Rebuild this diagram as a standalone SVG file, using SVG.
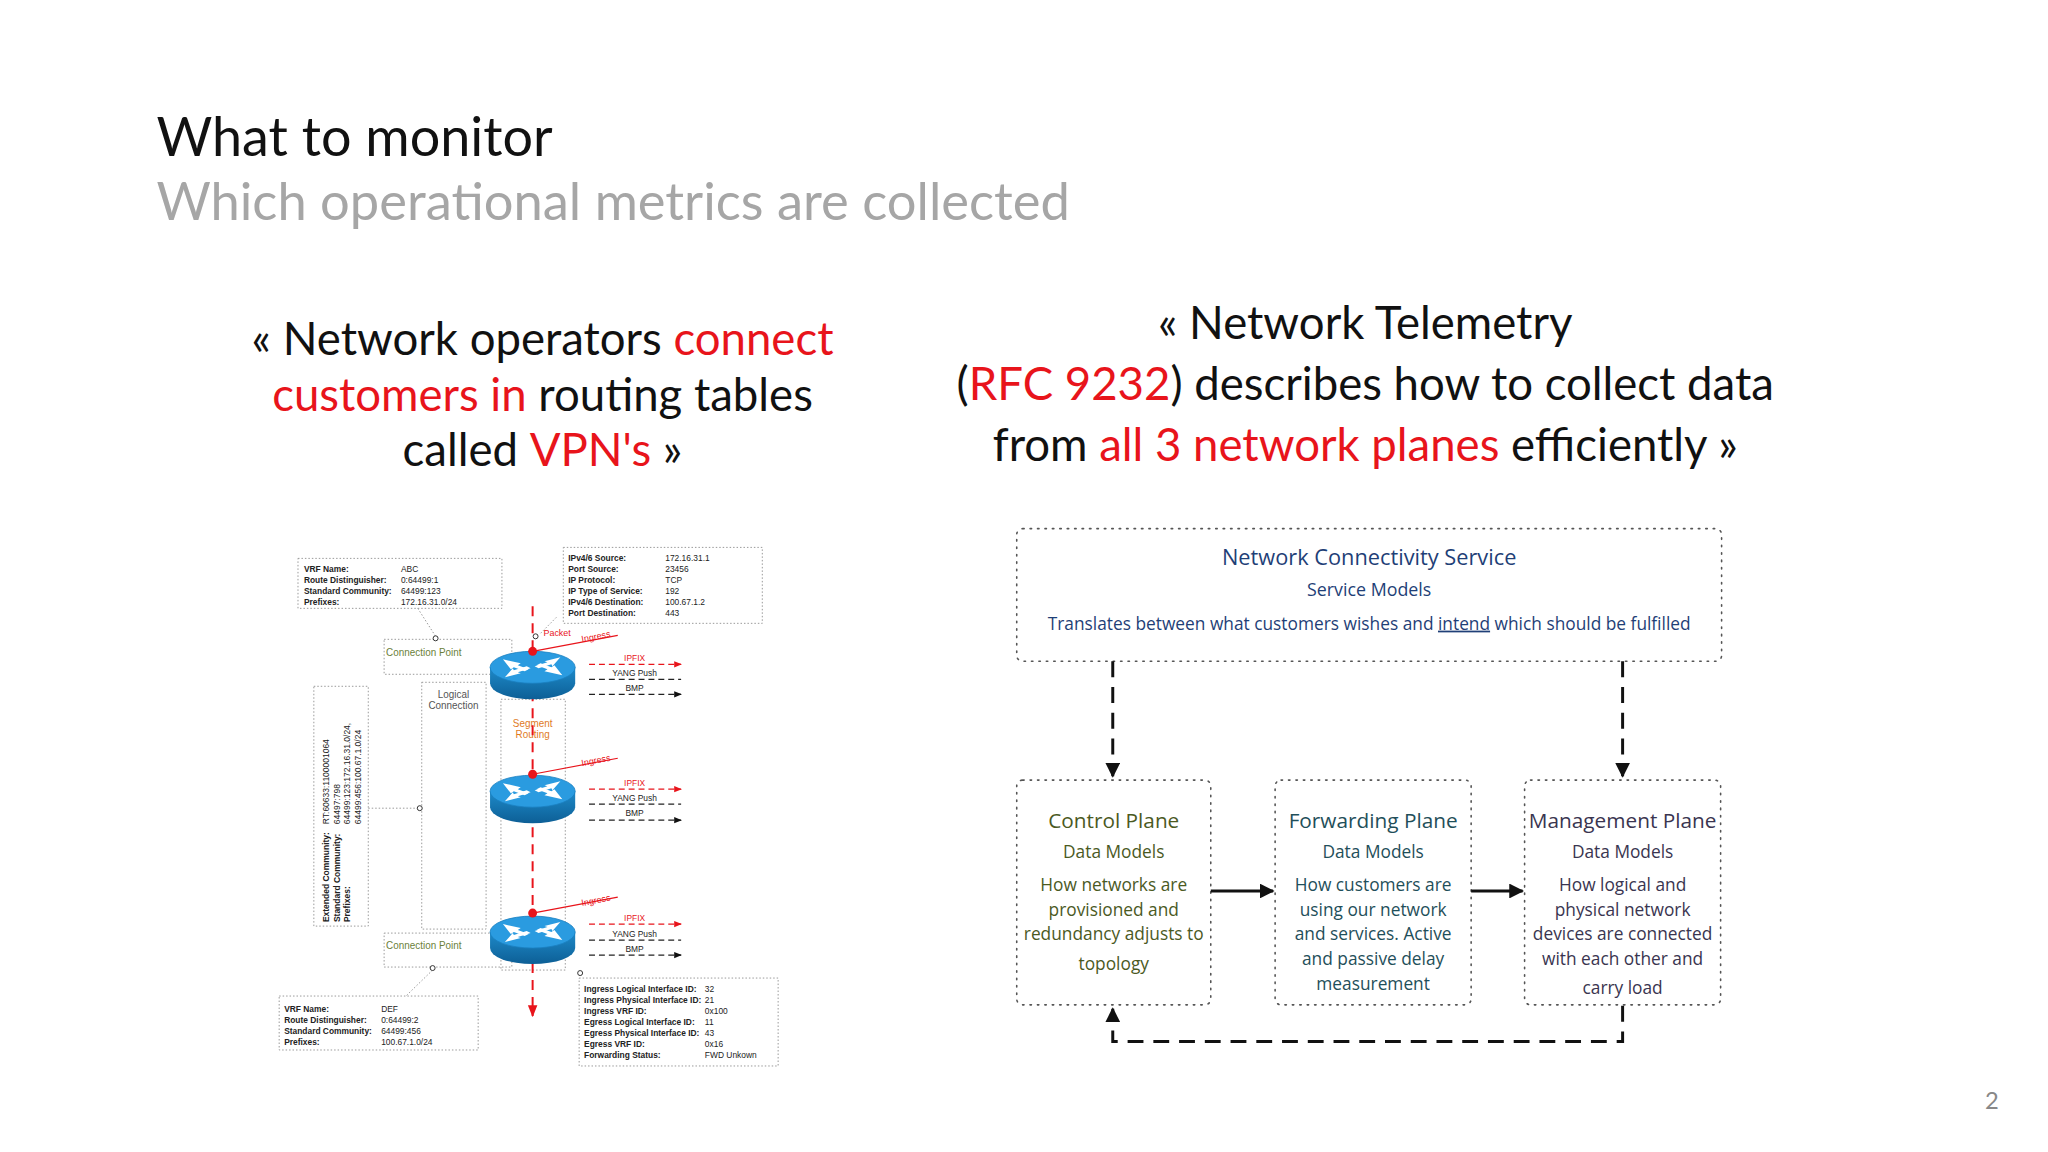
<svg xmlns="http://www.w3.org/2000/svg" width="2048" height="1152" viewBox="0 0 2048 1152">
<defs>
<style>
.t{font-family:Lato,"Liberation Sans",sans-serif}
.d{font-family:"Open Sans","Liberation Sans",sans-serif}
.s{font-family:"Liberation Sans",sans-serif;font-size:8.5px;fill:#222}
.sb{font-family:"Liberation Sans",sans-serif;font-size:8.5px;font-weight:bold;fill:#222}
.red{fill:#e8141b}
.dot{fill:none;stroke:#555;stroke-width:1.6;stroke-dasharray:1.5 6;stroke-linecap:round}
.sdot{stroke:#999;stroke-width:1;stroke-dasharray:1.5 2;fill:none}
.dash{stroke:#111;stroke-width:3;stroke-dasharray:16 10;fill:none}
.sol{stroke:#111;stroke-width:3;fill:none}
.od{stroke:#222;stroke-width:1.3;stroke-dasharray:6 4}
.odr{stroke:#e8141b;stroke-width:1.3;stroke-dasharray:6 4}
</style>
<marker id="ah" viewBox="0 0 10 10" refX="9" refY="5" markerWidth="5" markerHeight="5" orient="auto"><path d="M0,0L10,5L0,10z" fill="#111"/></marker>
<marker id="sa" viewBox="0 0 10 10" refX="9" refY="5" markerWidth="6" markerHeight="6" orient="auto"><path d="M0,1L10,5L0,9z" fill="#111"/></marker>
<marker id="sr" viewBox="0 0 10 10" refX="9" refY="5" markerWidth="6" markerHeight="6" orient="auto"><path d="M0,1L10,5L0,9z" fill="#e8141b"/></marker>
<linearGradient id="rb" x1="0" x2="0" y1="0" y2="1"><stop offset="0" stop-color="#1e8ac9"/><stop offset="1" stop-color="#0d5f96"/></linearGradient>
<symbol id="router" viewBox="-44 -26 88 52" width="88" height="52" overflow="visible">
<path d="M-43,-8 V8 A43,16 0 0 0 43,8 V-8 Z" fill="url(#rb)"/>
<ellipse cx="0" cy="-8" rx="43" ry="16" fill="#2a9be0" stroke="#1a7fc0" stroke-width="0.8"/>
<g fill="#fff">
<path d="M-30,-16 L-12,-12 L-15,-10 L-4,-6 L-8,-4 L-19,-8 L-22,-6 Z"/>
<path d="M30,0 L12,-4 L15,-6 L4,-10 L8,-12 L19,-8 L22,-10 Z"/>
<path d="M28,-18 L12,-14 L15,-13 L2,-9 L6,-7 L19,-11 L20,-9 Z"/>
<path d="M-28,2 L-12,-2 L-15,-3 L-2,-7 L-6,-9 L-19,-5 L-20,-7 Z"/>
</g>
</symbol>
</defs>
<rect width="2048" height="1152" fill="#fff"/>
<g transform="scale(0.99)">
<g id="title">
<text class="t" x="158" y="158" font-size="54.5" fill="#111">What to monitor</text>
<text class="t" x="158" y="222" font-size="53" fill="#a6a6a6">Which operational metrics are collected</text>
</g>

<g id="quote-left" class="t" font-size="46" text-anchor="middle" fill="#111">
<text x="548" y="359">« Network operators <tspan class="red">connect</tspan></text>
<text x="548" y="415"><tspan class="red">customers in</tspan> routing tables</text>
<text x="548" y="471">called <tspan class="red">VPN's</tspan> »</text>
</g>
<g id="quote-right" class="t" font-size="46" text-anchor="middle" fill="#111">
<text x="1379" y="342">« Network Telemetry</text>
<text x="1379" y="404">(<tspan class="red">RFC 9232</tspan>) describes how to collect data</text>
<text x="1379" y="466">from <tspan class="red">all 3 network planes</tspan> efficiently »</text>
</g>

<g id="vpn-diagram" transform="matrix(1,0,0,1.0093,0,-3.2)">
<g id="vrf-abc">
<rect x="301" y="562" width="206" height="50" fill="#fff" class="sdot"/>
<text class="sb" x="307" y="576">VRF Name:</text><text class="s" x="405" y="576">ABC</text>
<text class="sb" x="307" y="587">Route Distinguisher:</text><text class="s" x="405" y="587">0:64499:1</text>
<text class="sb" x="307" y="598">Standard Community:</text><text class="s" x="405" y="598">64499:123</text>
<text class="sb" x="307" y="609">Prefixes:</text><text class="s" x="405" y="609">172.16.31.0/24</text>
</g>
<g id="packet-box">
<rect x="569" y="551" width="201" height="76" fill="#fff" class="sdot"/>
<text class="sb" x="574" y="565">IPv4/6 Source:</text><text class="s" x="672" y="565">172.16.31.1</text>
<text class="sb" x="574" y="576">Port Source:</text><text class="s" x="672" y="576">23456</text>
<text class="sb" x="574" y="587">IP Protocol:</text><text class="s" x="672" y="587">TCP</text>
<text class="sb" x="574" y="598">IP Type of Service:</text><text class="s" x="672" y="598">192</text>
<text class="sb" x="574" y="609">IPv4/6 Destination:</text><text class="s" x="672" y="609">100.67.1.2</text>
<text class="sb" x="574" y="620">Port Destination:</text><text class="s" x="672" y="620">443</text>
</g>
<g id="communities">
<rect x="317" y="690" width="55" height="240" fill="#fff" class="sdot"/>
<g class="s" transform="translate(332,926) rotate(-90)">
<text class="sb" x="0" y="0">Extended Community:</text><text class="s" x="98" y="0">RT:60633:1100001064</text>
<text class="sb" x="0" y="11">Standard Community:</text><text class="s" x="98" y="11">64497:798</text>
<text class="sb" x="0" y="22">Prefixes:</text><text class="s" x="98" y="22">64499:123:172.16.31.0/24,</text>
<text class="s" x="98" y="33">64499:456:100.67.1.0/24</text>
</g>
</g>
<g id="cp-top"><rect x="388" y="643" width="129" height="35" fill="#f4f6ec" class="sdot"/><text class="s" x="390" y="660" style="font-size:10px;fill:#6b7f3a">Connection Point</text></g>
<g id="logical"><rect x="426" y="686" width="65" height="247" fill="#f2f2f6" class="sdot"/><text class="s" text-anchor="middle" style="font-size:10px;fill:#555" x="458" y="702">Logical</text><text class="s" text-anchor="middle" style="font-size:10px;fill:#555" x="458" y="713">Connection</text></g>
<g id="sr"><rect x="506" y="703" width="65" height="271" fill="#fbefe6" class="sdot"/><text class="s" text-anchor="middle" style="font-size:10px;fill:#e07a1e" x="538" y="731">Segment</text><text class="s" text-anchor="middle" style="font-size:10px;fill:#e07a1e" x="538" y="742">Routing</text></g>
<g id="cp-bottom"><rect x="388" y="937" width="129" height="34" fill="#f4f6ec" class="sdot"/><text class="s" x="390" y="953" style="font-size:10px;fill:#6b7f3a">Connection Point</text></g>
<g id="vrf-def">
<rect x="282" y="1000" width="201" height="54" fill="#fff" class="sdot"/>
<text class="sb" x="287" y="1016">VRF Name:</text><text class="s" x="385" y="1016">DEF</text>
<text class="sb" x="287" y="1027">Route Distinguisher:</text><text class="s" x="385" y="1027">0:64499:2</text>
<text class="sb" x="287" y="1038">Standard Community:</text><text class="s" x="385" y="1038">64499:456</text>
<text class="sb" x="287" y="1049">Prefixes:</text><text class="s" x="385" y="1049">100.67.1.0/24</text>
</g>
<g id="iface-box">
<rect x="585" y="982" width="201" height="88" fill="#fff" class="sdot"/>
<text class="sb" x="590" y="996">Ingress Logical Interface ID:</text><text class="s" x="712" y="996">32</text>
<text class="sb" x="590" y="1007">Ingress Physical Interface ID:</text><text class="s" x="712" y="1007">21</text>
<text class="sb" x="590" y="1018">Ingress VRF ID:</text><text class="s" x="712" y="1018">0x100</text>
<text class="sb" x="590" y="1029">Egress Logical Interface ID:</text><text class="s" x="712" y="1029">11</text>
<text class="sb" x="590" y="1040">Egress Physical Interface ID:</text><text class="s" x="712" y="1040">43</text>
<text class="sb" x="590" y="1051">Egress VRF ID:</text><text class="s" x="712" y="1051">0x16</text>
<text class="sb" x="590" y="1062">Forwarding Status:</text><text class="s" x="712" y="1062">FWD Unkown</text>
</g>
<g id="vpn-lines" fill="none">
<path d="M422,612 L440,640 M372,812 L424,812 M437,974 L410,1000 M562,621 L545,638" stroke="#999" stroke-dasharray="1.5 2"/>
<g fill="#fff" stroke="#333" stroke-width="1"><circle cx="440" cy="642" r="2.5"/><circle cx="424" cy="812" r="2.5"/><circle cx="437" cy="972" r="2.5"/><circle cx="541" cy="640" r="2.5"/><circle cx="586" cy="977" r="2.5"/></g>
<path d="M538,610 V1020" stroke="#e8141b" stroke-width="2" stroke-dasharray="10 7" marker-end="url(#sr)"/>
<path d="M538,655 L624,639 M538,778 L624,762 M538,917 L624,901" stroke="#e8141b" stroke-width="1.2"/>
<path d="M595,668 H688" class="odr" marker-end="url(#sr)"/><path d="M595,683 H688 M595,698 H688" class="od" marker-end="url(#sa)"/>
<path d="M595,793 H688" class="odr" marker-end="url(#sr)"/><path d="M595,808 H688 M595,824 H688" class="od" marker-end="url(#sa)"/>
<path d="M595,928 H688" class="odr" marker-end="url(#sr)"/><path d="M595,944 H688 M595,959 H688" class="od" marker-end="url(#sa)"/>
</g>
<use href="#router" x="494" y="653"/>
<use href="#router" x="494" y="777"/>
<use href="#router" x="494" y="918"/>
<g fill="#e8141b"><circle cx="538" cy="655" r="4.5"/><circle cx="538" cy="778" r="4.5"/><circle cx="538" cy="917" r="4.5"/></g>
<g class="s" style="font-size:9px;fill:#e8141b">
<text x="549" y="640">Packet</text>
<text x="588" y="646" transform="rotate(-11 588 646)">Ingress</text>
<text x="588" y="770" transform="rotate(-11 588 770)">Ingress</text>
<text x="588" y="910" transform="rotate(-11 588 910)">Ingress</text>
</g>
<g class="s" text-anchor="middle" style="font-size:8.5px">
<text x="641" y="665" style="fill:#e8141b">IPFIX</text><text x="641" y="680">YANG Push</text><text x="641" y="695">BMP</text>
<text x="641" y="790" style="fill:#e8141b">IPFIX</text><text x="641" y="805">YANG Push</text><text x="641" y="820">BMP</text>
<text x="641" y="925" style="fill:#e8141b">IPFIX</text><text x="641" y="941">YANG Push</text><text x="641" y="956">BMP</text>
</g>
</g>

<g id="ncs">
<rect x="1027" y="534" width="712" height="134" rx="6" fill="#f3f6fb" class="dot"/>
<text class="d" x="1383" y="571" font-size="22" fill="#1f3f77" text-anchor="middle">Network Connectivity Service</text>
<text class="d" x="1383" y="602" font-size="18" fill="#1f3f77" text-anchor="middle">Service Models</text>
<text class="d" x="1383" y="636" font-size="17.5" fill="#1f3f77" text-anchor="middle">Translates between what customers wishes and <tspan text-decoration="underline">intend</tspan> which should be fulfilled</text>
</g>
<g id="control">
<rect x="1027" y="788" width="196" height="227" rx="6" fill="#f7f8ef" class="dot"/>
<g class="d" text-anchor="middle" fill="#4b5a1f" font-size="17.5">
<text x="1125" y="836" font-size="21">Control Plane</text><text x="1125" y="867">Data Models</text>
<text x="1125" y="900">How networks are</text><text x="1125" y="925">provisioned and</text><text x="1125" y="950">redundancy adjusts to</text><text x="1125" y="980">topology</text>
</g>
</g>
<g id="forwarding">
<rect x="1288" y="788" width="198" height="227" rx="6" fill="#eef6f8" class="dot"/>
<g class="d" text-anchor="middle" fill="#1f4f5a" font-size="17.5">
<text x="1387" y="836" font-size="21">Forwarding Plane</text><text x="1387" y="867">Data Models</text>
<text x="1387" y="900">How customers are</text><text x="1387" y="925">using our network</text><text x="1387" y="950">and services. Active</text><text x="1387" y="975">and passive delay</text><text x="1387" y="1000">measurement</text>
</g>
</g>
<g id="management">
<rect x="1540" y="788" width="198" height="227" rx="6" fill="#f6f4f8" class="dot"/>
<g class="d" text-anchor="middle" fill="#3a3550" font-size="17.5">
<text x="1639" y="836" font-size="21">Management Plane</text><text x="1639" y="867">Data Models</text>
<text x="1639" y="900">How logical and</text><text x="1639" y="925">physical network</text><text x="1639" y="950">devices are connected</text><text x="1639" y="975">with each other and</text><text x="1639" y="1004">carry load</text>
</g>
</g>
<g id="connectors">
<path d="M1124,668 V784" class="dash" marker-end="url(#ah)"/>
<path d="M1639,668 V784" class="dash" marker-end="url(#ah)"/>
<path d="M1223,900 H1286" class="sol" marker-end="url(#ah)"/>
<path d="M1486,900 H1538" class="sol" marker-end="url(#ah)"/>
<path d="M1639,1016 V1052 H1124 V1019" class="dash" marker-end="url(#ah)"/>
</g>
<text class="t" x="2012" y="1120" font-size="24" fill="#888" text-anchor="middle">2</text>
</g>
</svg>
